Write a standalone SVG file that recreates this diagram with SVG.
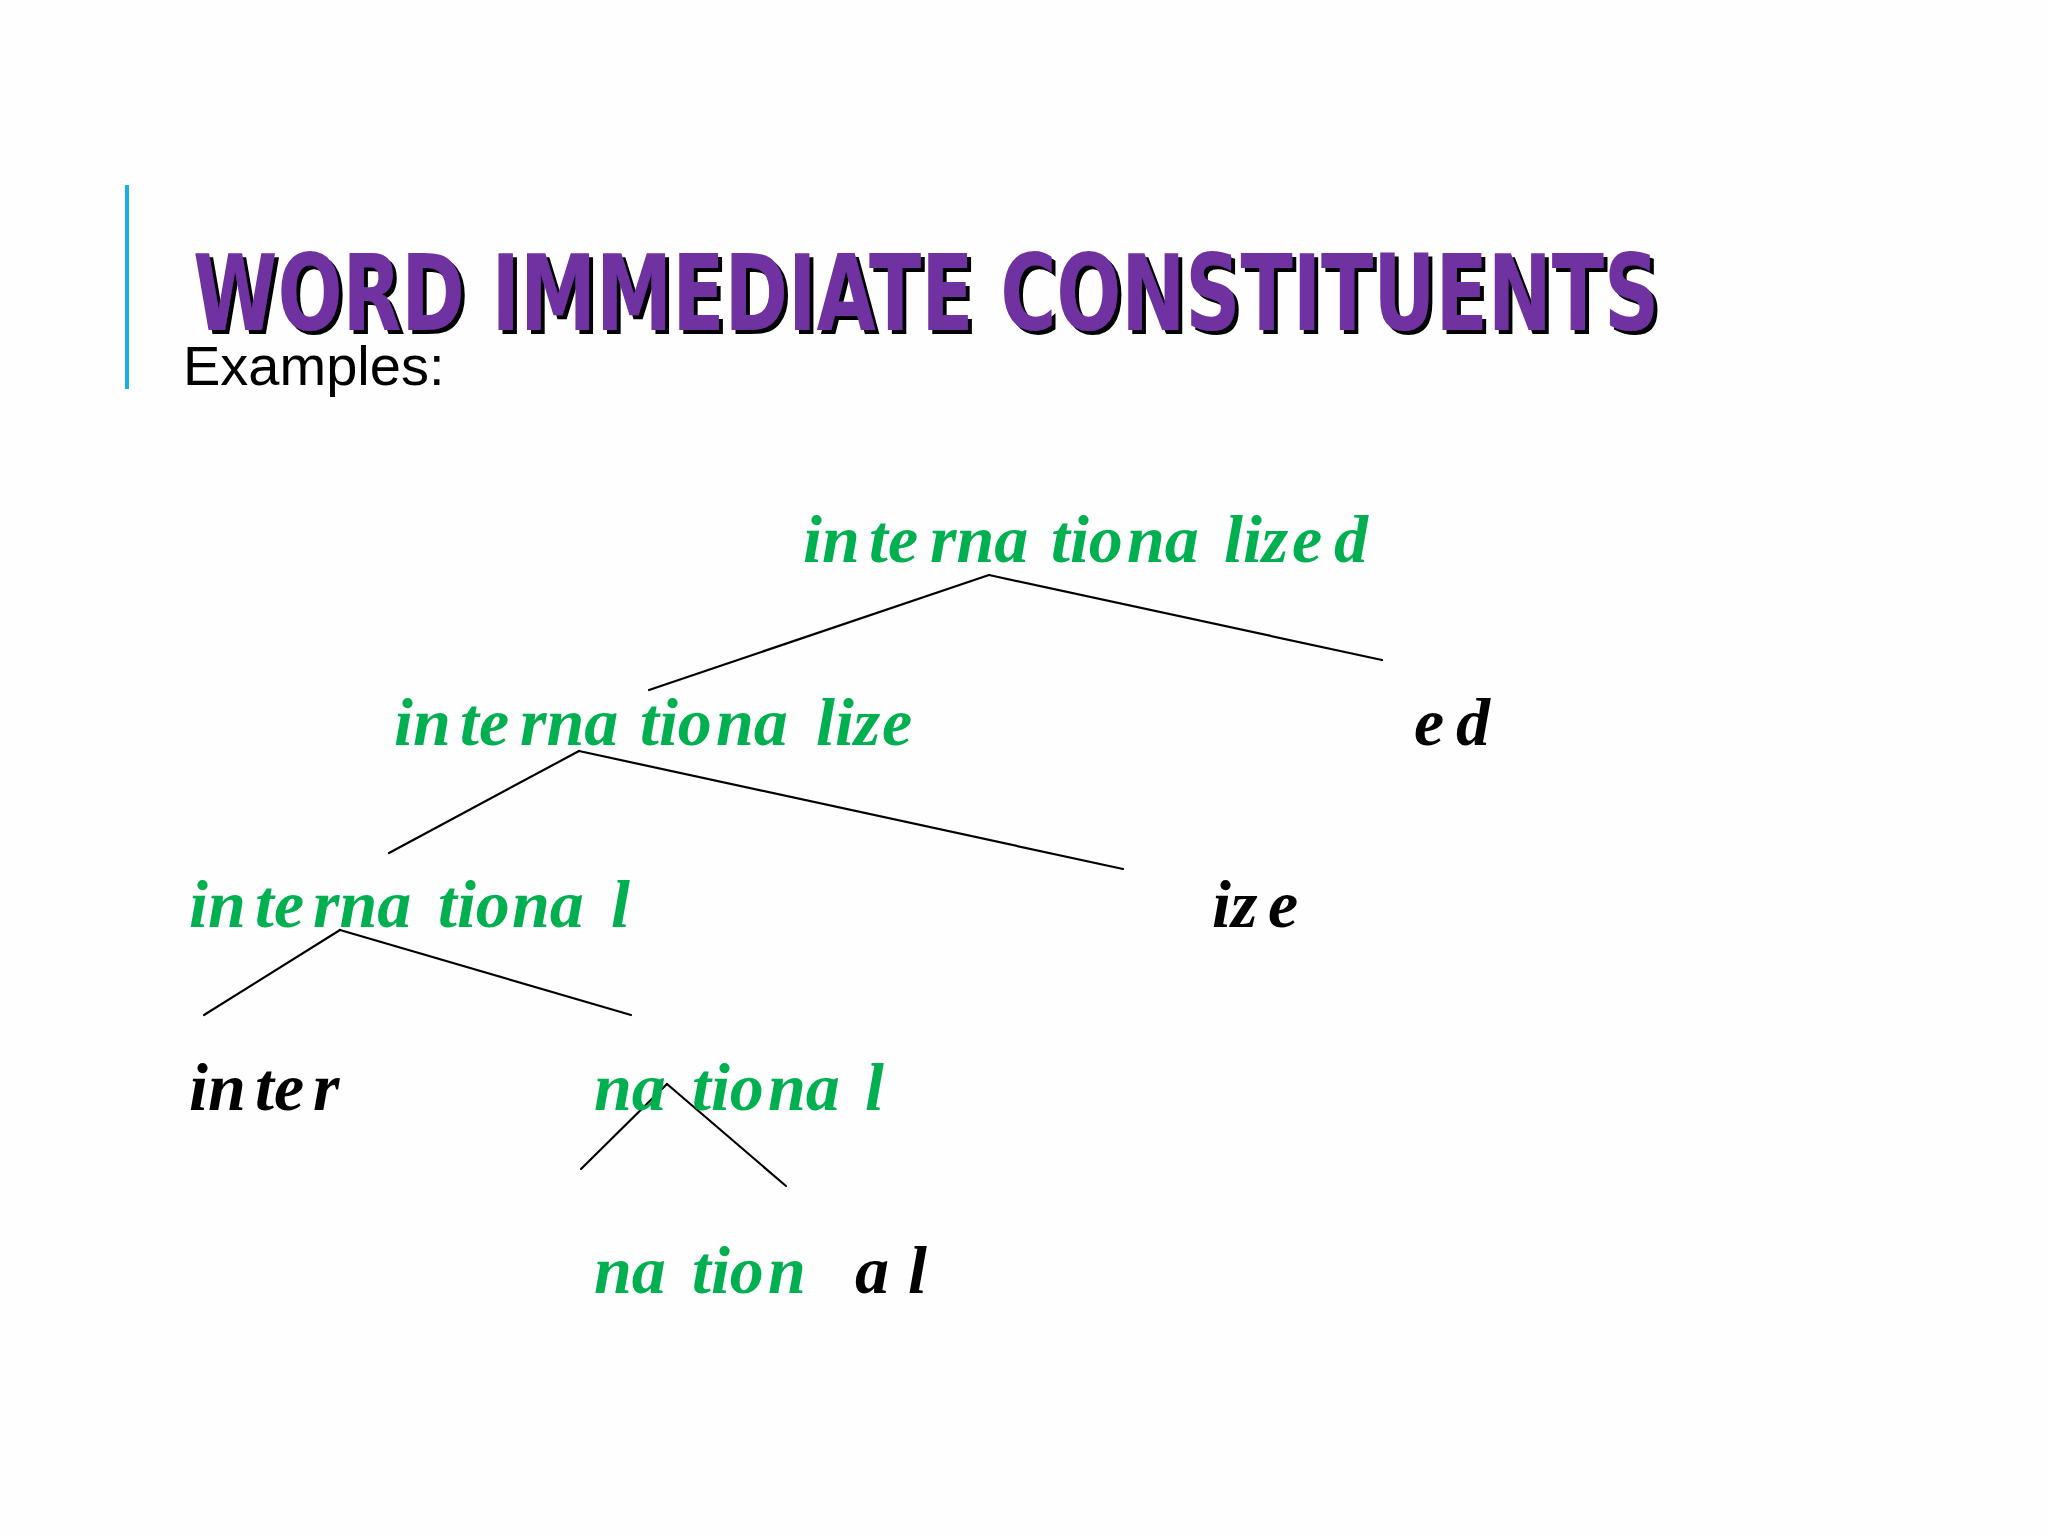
<svg xmlns="http://www.w3.org/2000/svg" width="2048" height="1536" viewBox="0 0 2048 1536">
<defs>
<filter id="shadow" x="-2%" y="-10%" width="104%" height="130%">
<feOffset in="SourceAlpha" dx="4" dy="4" result="off"/>
<feMerge><feMergeNode in="off"/><feMergeNode in="SourceGraphic"/></feMerge>
</filter>
</defs>
<style>
.title{font-family:"Liberation Sans Narrow","DejaVu Sans Condensed","Liberation Sans",sans-serif;font-weight:bold;font-size:106px;fill:#7030A0}
.sub{font-family:"Liberation Sans",Arial,sans-serif;font-size:56px;fill:#000}
.w{font-family:"Liberation Serif","DejaVu Serif",serif;font-weight:bold;font-style:italic;font-size:68px}
.g{fill:#00B050}
.k{fill:#000}
.conn line{stroke:#000;stroke-width:2.2;stroke-linecap:round}
</style>
<rect width="2048" height="1536" fill="#FEFEFE"/>
<line x1="127" y1="185" x2="127" y2="389" stroke="#1CADE4" stroke-width="4"/>
<g id="title">
<text class="title" x="193" y="330" filter="url(#shadow)" textLength="1466" lengthAdjust="spacingAndGlyphs">WORD IMMEDIATE CONSTITUENTS</text>
</g>
<text class="sub" x="183" y="385">Examples:</text>
<g class="conn" id="connectors">
<line x1="989" y1="575" x2="649" y2="690"/>
<line x1="989" y1="575" x2="1382" y2="660"/>
<line x1="579" y1="751" x2="389" y2="853"/>
<line x1="579" y1="751" x2="1123" y2="869"/>
<line x1="340" y1="930" x2="204" y2="1015"/>
<line x1="340" y1="930" x2="631" y2="1015"/>
<line x1="667" y1="1084" x2="581" y2="1169"/>
<line x1="667" y1="1084" x2="786" y2="1186"/>
</g>
<g id="n-internationalized"><text class="w g" y="562"><tspan x="803">in</tspan><tspan x="869">te</tspan><tspan x="930">rna</tspan><tspan x="1051">tio</tspan><tspan x="1127">na</tspan><tspan x="1224">liz</tspan><tspan x="1292">e</tspan><tspan x="1334">d</tspan></text></g>
<g id="n-internationalize"><text class="w g" y="745"><tspan x="394">in</tspan><tspan x="460">te</tspan><tspan x="520">rna</tspan><tspan x="640">tio</tspan><tspan x="716">na</tspan><tspan x="816">liz</tspan><tspan x="882">e</tspan></text></g>
<g id="n-ed"><text class="w k" y="745"><tspan x="1414">e</tspan><tspan x="1456">d</tspan></text></g>
<g id="n-international"><text class="w g" y="927"><tspan x="189">in</tspan><tspan x="255">te</tspan><tspan x="313">rna</tspan><tspan x="438">tio</tspan><tspan x="512">na</tspan><tspan x="611">l</tspan></text></g>
<g id="n-ize"><text class="w k" y="927"><tspan x="1212">iz</tspan><tspan x="1268">e</tspan></text></g>
<g id="n-inter"><text class="w k" y="1110"><tspan x="189">in</tspan><tspan x="255">te</tspan><tspan x="313">r</tspan></text></g>
<g id="n-national"><text class="w g" y="1110"><tspan x="594">na</tspan><tspan x="692">tio</tspan><tspan x="768">na</tspan><tspan x="865">l</tspan></text></g>
<g id="n-nation"><text class="w g" y="1293"><tspan x="594">na</tspan><tspan x="692">tio</tspan><tspan x="768">n</tspan></text></g>
<g id="n-al"><text class="w k" y="1293"><tspan x="855">a</tspan><tspan x="908">l</tspan></text></g>
</svg>
